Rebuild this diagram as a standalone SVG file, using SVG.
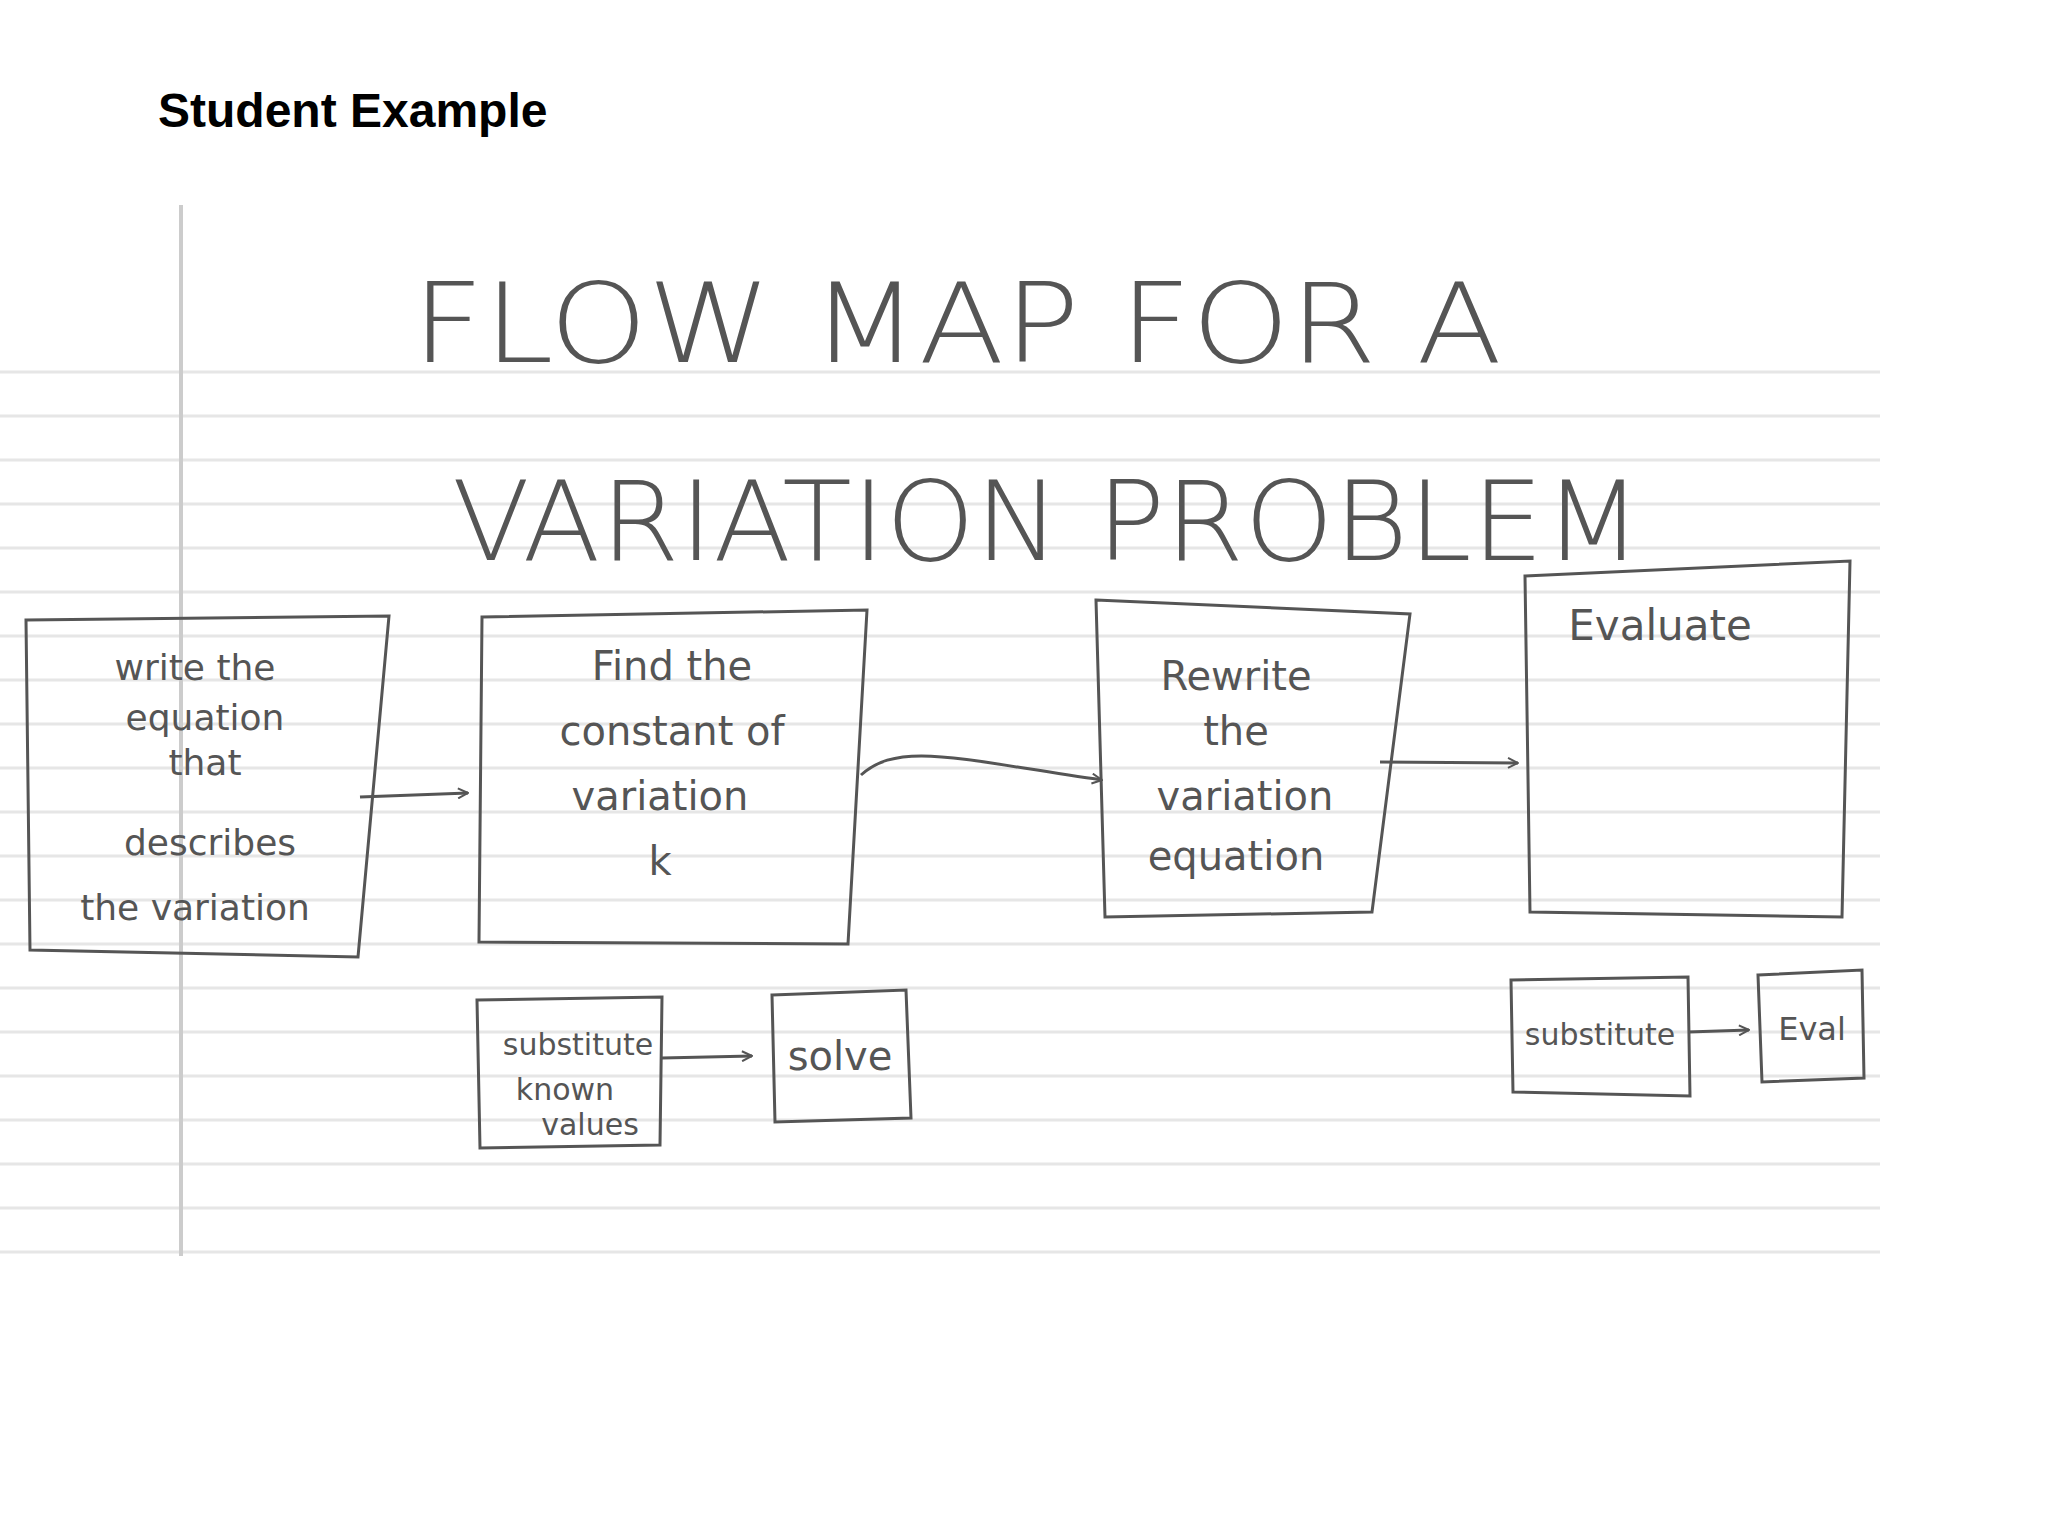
<svg xmlns="http://www.w3.org/2000/svg" width="2048" height="1536" viewBox="0 0 2048 1536">
<style>
.box{fill:none;stroke:#555;stroke-width:3}
.hw{font-family:"DejaVu Sans",sans-serif;fill:#555;text-anchor:middle}
.big{font-family:"DejaVu Sans",sans-serif;font-weight:200;fill:#555;font-size:110px}
.rule{stroke:#e6e6e6;stroke-width:3}
.con{fill:none;stroke:#555;stroke-width:3;marker-end:url(#ah)}
</style>
<defs>
<marker id="ah" viewBox="0 0 12 12" refX="11" refY="6" markerWidth="12" markerHeight="12" markerUnits="userSpaceOnUse" orient="auto"><path d="M1,1 L11,6 L1,11" fill="none" stroke="#555" stroke-width="2"/></marker>
</defs>
<rect width="2048" height="1536" fill="#fff"/>
<text x="158" y="127" font-family="Liberation Sans,Arial,sans-serif" font-weight="bold" font-size="48" fill="#000">Student Example</text>
<g id="paper">
<path class="rule" d="M0,372H1880M0,416H1880M0,460H1880M0,504H1880M0,548H1880M0,592H1880M0,636H1880M0,680H1880M0,724H1880M0,768H1880M0,812H1880M0,856H1880M0,900H1880M0,944H1880M0,988H1880M0,1032H1880M0,1076H1880M0,1120H1880M0,1164H1880M0,1208H1880M0,1252H1880"/>
<line x1="181" y1="205" x2="181" y2="1256" stroke="#ccc" stroke-width="4"/>
</g>
<g id="title">
<text class="big" x="412" y="362" textLength="1090" lengthAdjust="spacingAndGlyphs">FLOW MAP FOR A</text>
<text class="big" x="452" y="560" textLength="1190" lengthAdjust="spacingAndGlyphs">VARIATION PROBLEM</text>
</g>
<g id="n1"><path class="box" d="M26,620 L389,616 L358,957 L30,950 Z"/>
<text class="hw" font-size="36"><tspan x="195" y="680">write the</tspan><tspan x="205" y="730">equation</tspan><tspan x="205" y="775">that</tspan><tspan x="210" y="855">describes</tspan><tspan x="195" y="920">the variation</tspan></text></g>
<g id="n2"><path class="box" d="M482,617 L867,610 L848,944 L479,942 Z"/>
<text class="hw" font-size="40"><tspan x="672" y="680">Find the</tspan><tspan x="672" y="745">constant of</tspan><tspan x="660" y="810">variation</tspan><tspan x="660" y="875">k</tspan></text></g>
<g id="n3"><path class="box" d="M1096,600 L1410,614 L1372,912 L1105,917 Z"/>
<text class="hw" font-size="40"><tspan x="1236" y="690">Rewrite</tspan><tspan x="1236" y="745">the</tspan><tspan x="1245" y="810">variation</tspan><tspan x="1236" y="870">equation</tspan></text></g>
<g id="n4"><path class="box" d="M1525,576 L1850,561 L1842,917 L1530,912 Z"/>
<text class="hw" font-size="42" x="1660" y="640">Evaluate</text></g>
<g id="n5"><path class="box" d="M477,1000 L662,997 L660,1145 L480,1148 Z"/>
<text class="hw" font-size="30"><tspan x="578" y="1055">substitute</tspan><tspan x="565" y="1100">known</tspan><tspan x="590" y="1135">values</tspan></text></g>
<g id="n6"><path class="box" d="M772,995 L906,990 L911,1118 L775,1122 Z"/>
<text class="hw" font-size="40" x="840" y="1070">solve</text></g>
<g id="n7"><path class="box" d="M1511,980 L1688,977 L1690,1096 L1513,1092 Z"/>
<text class="hw" font-size="30" x="1600" y="1045">substitute</text></g>
<g id="n8"><path class="box" d="M1758,975 L1862,970 L1864,1078 L1762,1082 Z"/>
<text class="hw" font-size="32" x="1812" y="1040">Eval</text></g>
<g id="connectors">
<path class="con" d="M360,797 L468,793"/>
<path class="con" d="M861,775 C900,740 960,760 1102,780"/>
<path class="con" d="M1380,762 L1518,763"/>
<path class="con" d="M662,1058 L752,1056"/>
<path class="con" d="M1688,1032 L1749,1030"/>
</g>
</svg>
